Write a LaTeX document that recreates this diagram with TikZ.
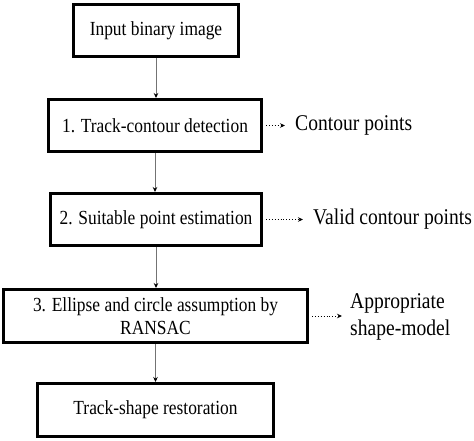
\documentclass[tikz,border=0pt]{standalone}
\usepackage{fontspec}
\setmainfont{Liberation Serif}[FakeStretch=0.87]
\usetikzlibrary{arrows.meta}
\tikzset{
  stepbox/.style={draw=black, line width=3pt, inner sep=0pt, align=center,
    font=\fontsize{20}{23}\selectfont},
  sidetext/.style={inner sep=0pt, anchor=west, align=left,
    font=\fontsize{22.5}{27}\selectfont},
  flow/.style={draw=black!55, line width=0.9pt, -{Stealth[black, length=5pt, width=4.5pt]}},
  side/.style={draw=black, line width=0.9pt, dotted, -{Stealth[black, length=5pt, width=4.5pt]}, shorten <=3pt}
}
\begin{document}
\begin{tikzpicture}[x=1pt,y=1pt]
\useasboundingbox (0,0) rectangle (474,-440);
\node[stepbox, minimum width=165pt, minimum height=52pt] (b0) at (156,-30.5) {Input binary image};
\node[stepbox, minimum width=213pt, minimum height=52pt] (b1) at (155,-125.5) {1. Track-contour detection};
\node[stepbox, minimum width=211pt, minimum height=52pt] (b2) at (156,-219.5) {2. Suitable point estimation};
\node[stepbox, minimum width=304pt, minimum height=53pt] (b3) at (155.5,-316) {3. Ellipse and circle assumption by\\RANSAC};
\node[stepbox, minimum width=236pt, minimum height=53pt] (b4) at (155.5,-410) {Track-shape restoration};
\node[sidetext] (t1) at (295,-125.5) {Contour points};
\node[sidetext] (t2) at (313,-219) {Valid contour points};
\node[sidetext] (t3) at (350,-316.5) {Appropriate\\shape-model};
\draw[flow] (b0.south) -- (b0.south |- b1.north);
\draw[flow] (b1.south) -- (b1.south |- b2.north);
\draw[flow] (b2.south) -- (b2.south |- b3.north);
\draw[flow] (b3.south) -- (b3.south |- b4.north);
\draw[side, shorten >=10pt] (b1.east) -- (t1.west);
\draw[side, shorten >=10pt] (b2.east) -- (b2.east -| t2.west);
\draw[side, shorten >=8pt] (b3.east) -- (b3.east -| t3.west);
\end{tikzpicture}
\end{document}
